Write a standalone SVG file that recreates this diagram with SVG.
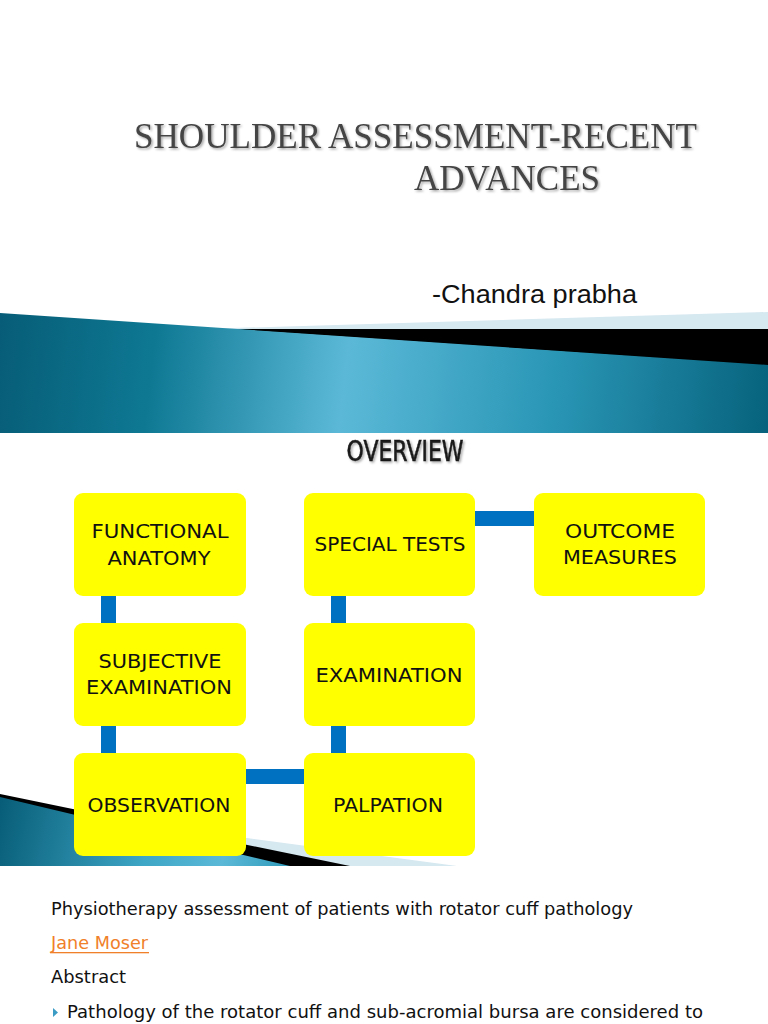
<svg xmlns="http://www.w3.org/2000/svg" width="768" height="1024" viewBox="0 0 768 1024">
  <defs>
    <linearGradient id="tealTop" gradientUnits="userSpaceOnUse" x1="0" y1="330" x2="768" y2="420">
      <stop offset="0" stop-color="#075d77"/>
      <stop offset="0.2" stop-color="#0e7893"/>
      <stop offset="0.45" stop-color="#5bb9d7"/>
      <stop offset="0.72" stop-color="#2a96b6"/>
      <stop offset="1" stop-color="#07637d"/>
    </linearGradient>
    <linearGradient id="tealBot" gradientUnits="userSpaceOnUse" x1="0" y1="800" x2="300" y2="866">
      <stop offset="0" stop-color="#075d77"/>
      <stop offset="0.5" stop-color="#3ea6c6"/>
      <stop offset="0.75" stop-color="#5bb9d7"/>
      <stop offset="1" stop-color="#2a96b6"/>
    </linearGradient>
    <filter id="shadow" x="-5%" y="-20%" width="110%" height="150%">
      <feDropShadow dx="1.5" dy="1.5" stdDeviation="1" flood-color="#000" flood-opacity="0.35"/>
    </filter>
    <style>
      .box { fill: #ffff00; }
      .conn { fill: #0070c0; }
      .lbl { font-family: "DejaVu Sans", Verdana, sans-serif; font-size: 20px; fill: #111; text-anchor: middle; }
      .title { font-family: "Liberation Serif", "Times New Roman", serif; font-size: 35px; fill: #444; }
      .body { font-family: "DejaVu Sans", Verdana, sans-serif; font-size: 18px; fill: #111; }
    </style>
  </defs>

  <rect width="768" height="1024" fill="#ffffff"/>

  <!-- Title slide -->
  <g id="title">
    <text class="title" x="134" y="148" textLength="563" lengthAdjust="spacingAndGlyphs" filter="url(#shadow)">SHOULDER ASSESSMENT-RECENT</text>
    <text class="title" x="414" y="190" textLength="186" lengthAdjust="spacingAndGlyphs" filter="url(#shadow)">ADVANCES</text>
    <text x="432" y="303" font-family="Liberation Sans, Arial, sans-serif" font-size="26" fill="#111" textLength="205" lengthAdjust="spacingAndGlyphs">-Chandra prabha</text>
  </g>

  <!-- Top banner -->
  <g id="banner-top">
    <polygon points="200,329 768,312 768,329" fill="#d6e8f0"/>
    <polygon points="230,329 768,329 768,366 230,329" fill="#000"/>
    <polygon points="0,313 768,365 768,433 0,433" fill="url(#tealTop)"/>
  </g>

  <!-- Bottom banner of slide 2 -->
  <g id="banner-bottom">
    <polygon points="180,829 457,866 180,866" fill="#d6e8f0"/>
    <polygon points="0,794 350,866 0,866" fill="#000"/>
    <polygon points="0,797 290,866 0,866" fill="url(#tealBot)"/>
  </g>

  <text x="405" y="461" font-family="DejaVu Sans, Verdana, sans-serif" font-size="28" fill="#1a1a1a" stroke="#1a1a1a" stroke-width="0.6" textLength="117" lengthAdjust="spacingAndGlyphs" text-anchor="middle" filter="url(#shadow)">OVERVIEW</text>

  <!-- Connectors -->
  <g id="connectors">
    <rect class="conn" x="475" y="511" width="59" height="15"/>
    <rect class="conn" x="101" y="596" width="15" height="27"/>
    <rect class="conn" x="331" y="596" width="15" height="27"/>
    <rect class="conn" x="101" y="726" width="15" height="27"/>
    <rect class="conn" x="331" y="726" width="15" height="27"/>
    <rect class="conn" x="246" y="769" width="58" height="15"/>
  </g>

  <g id="functional-anatomy">
    <rect class="box" x="74" y="493" width="172" height="103" rx="9"/>
    <text class="lbl" x="160" y="538" textLength="137" lengthAdjust="spacingAndGlyphs">FUNCTIONAL</text>
    <text class="lbl" x="159" y="565" textLength="103" lengthAdjust="spacingAndGlyphs">ANATOMY</text>
  </g>
  <g id="special-tests">
    <rect class="box" x="304" y="493" width="171" height="103" rx="9"/>
    <text class="lbl" x="390" y="551" textLength="151" lengthAdjust="spacingAndGlyphs">SPECIAL TESTS</text>
  </g>
  <g id="outcome-measures">
    <rect class="box" x="534" y="493" width="171" height="103" rx="9"/>
    <text class="lbl" x="620" y="538" textLength="110" lengthAdjust="spacingAndGlyphs">OUTCOME</text>
    <text class="lbl" x="620" y="564" textLength="114" lengthAdjust="spacingAndGlyphs">MEASURES</text>
  </g>
  <g id="subjective-examination">
    <rect class="box" x="74" y="623" width="172" height="103" rx="9"/>
    <text class="lbl" x="160" y="668" textLength="123" lengthAdjust="spacingAndGlyphs">SUBJECTIVE</text>
    <text class="lbl" x="159" y="694" textLength="146" lengthAdjust="spacingAndGlyphs">EXAMINATION</text>
  </g>
  <g id="examination">
    <rect class="box" x="304" y="623" width="171" height="103" rx="9"/>
    <text class="lbl" x="389" y="682" textLength="147" lengthAdjust="spacingAndGlyphs">EXAMINATION</text>
  </g>
  <g id="observation">
    <rect class="box" x="74" y="753" width="172" height="103" rx="9"/>
    <text class="lbl" x="159" y="812" textLength="143" lengthAdjust="spacingAndGlyphs">OBSERVATION</text>
  </g>
  <g id="palpation">
    <rect class="box" x="304" y="753" width="171" height="103" rx="9"/>
    <text class="lbl" x="388" y="812" textLength="110" lengthAdjust="spacingAndGlyphs">PALPATION</text>
  </g>

  <!-- Article text -->
  <g id="article">
    <text class="body" x="51" y="915" textLength="582" lengthAdjust="spacingAndGlyphs">Physiotherapy assessment of patients with rotator cuff pathology</text>
    <text class="body" x="51" y="949" style="fill:#f0802a" textLength="97" lengthAdjust="spacingAndGlyphs">Jane Moser</text>
    <rect x="50" y="952" width="99" height="1.3" fill="#f0802a"/>
    <text class="body" x="51" y="983" textLength="75" lengthAdjust="spacingAndGlyphs">Abstract</text>
    <polygon points="53,1008 58,1012.5 53,1017" fill="#3c9cc4"/>
    <text class="body" x="67" y="1018" textLength="636" lengthAdjust="spacingAndGlyphs">Pathology of the rotator cuff and sub-acromial bursa are considered to</text>
  </g>
</svg>
